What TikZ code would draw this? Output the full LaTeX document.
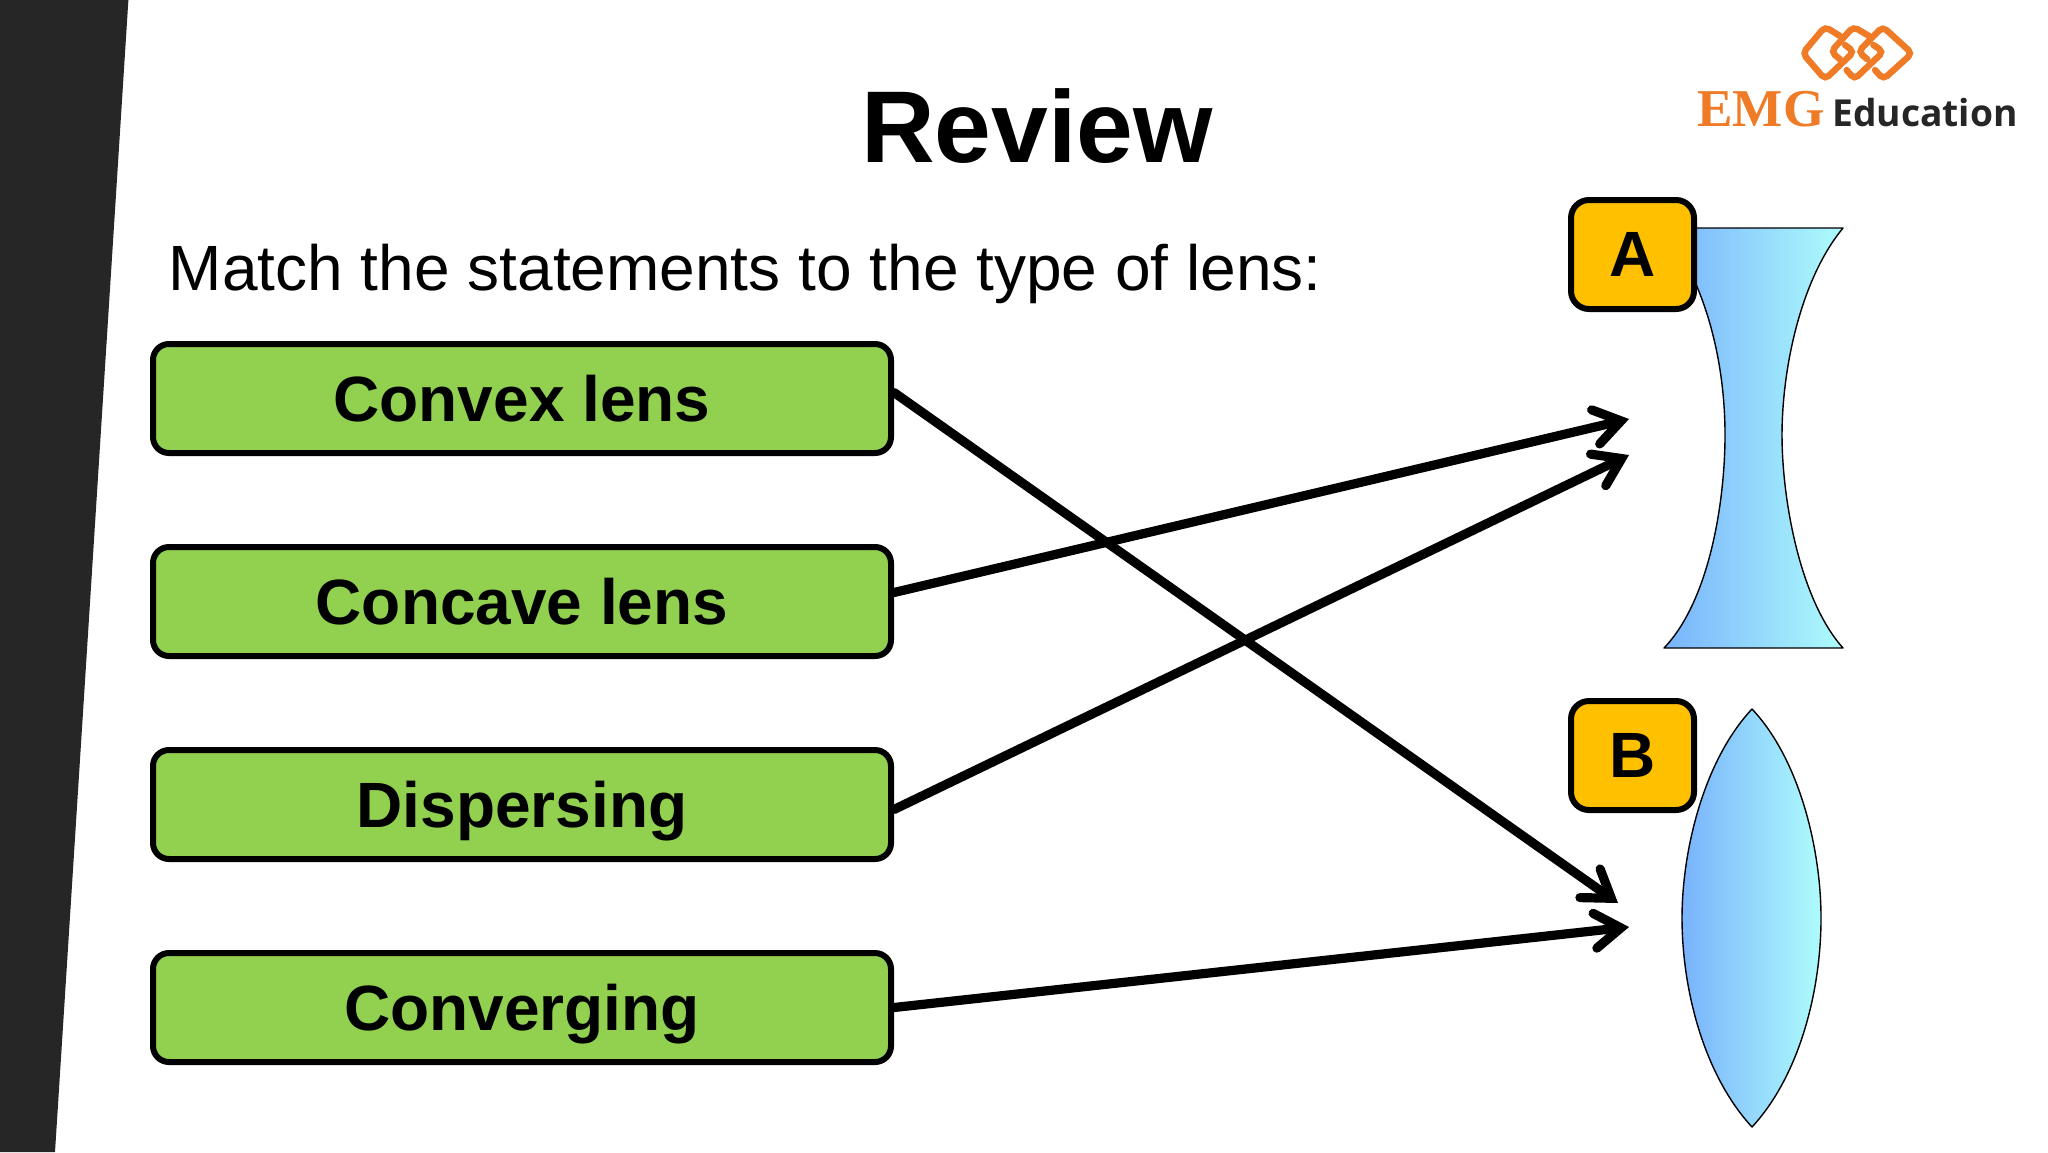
\documentclass[tikz,border=0pt]{standalone}
\usepackage{fontspec}
\setmainfont{Liberation Sans}
\newfontfamily\logoserif{Liberation Serif}
\newfontfamily\logosans{Open Sans}
\usetikzlibrary{positioning,arrows.meta}
\definecolor{slidedark}{HTML}{262626}
\definecolor{boxgreen}{HTML}{92D050}
\definecolor{tagyellow}{HTML}{FFC000}
\definecolor{logoorange}{HTML}{EF7B26}
\definecolor{lensleft}{HTML}{78B2FC}
\definecolor{lensright}{HTML}{AEFCFC}

\begin{document}
\begin{tikzpicture}[x=.5pt,y=-.5pt,node distance=44pt,
                    item/.style={draw=black,line width=3pt,fill=boxgreen,rounded corners=8pt,minimum width=369pt,minimum height=54.5pt,inner sep=0pt,text height=23.3pt,text depth=.4pt,font={\fontsize{32}{36}\selectfont\bfseries}},
                    tag/.style={draw=black,line width=3pt,fill=tagyellow,rounded corners=9pt,minimum width=61.5pt,minimum height=54.5pt,inner sep=0pt,font={\fontsize{32}{36}\selectfont\bfseries}},
                    lens/.style={draw=black,line width=.7pt,left color=lensleft,right color=lensright,line join=round},
                    match/.style={draw=black,line width=4.6pt,line cap=round,-{Straight Barb[length=13pt,width=17.5pt,line cap=round,line join=miter]}},
                    link/.style={draw=logoorange,line width=3.2pt,rounded corners=2.5pt,line cap=round}]
  \useasboundingbox (0,0) rectangle (2048,1152);
  \fill[slidedark] (0,0) -- (128.4,0) -- (55,1152) -- (0,1152) -- cycle;
  % heading
  \node[font={\fontsize{51}{56}\selectfont\bfseries}] (title) at (1037,126) {Review};
  \node[anchor=base west,inner sep=0pt,font={\fontsize{32}{36}\selectfont}] (prompt) at (168.5,290) {Match the statements to the type of lens:};
  % statements
  \node[item] (convex) at (522,398.5) {Convex lens};
  \node[item] (concave) [below=of convex] {Concave lens};
  \node[item] (dispersing) [below=of concave] {Dispersing};
  \node[item] (converging) [below=of dispersing] {Converging};
  % lenses
  \path[lens] (1664,648) .. controls (1710,600) and (1725,500) .. (1725,435) .. controls (1725,370) and (1710,290) .. (1664,228) -- (1843,228) .. controls (1800,280) and (1782,370) .. (1782,435) .. controls (1782,500) and (1800,600) .. (1843,648) -- cycle;
  \path[lens] (1752,709) .. controls (1800,760) and (1821,850) .. (1821,918) .. controls (1821,990) and (1800,1075) .. (1752,1127) .. controls (1704,1075) and (1682,990) .. (1682,918) .. controls (1682,850) and (1704,760) .. (1752,709) -- cycle;
  \node[tag] (taga) at (1632.5,254.5) {A};
  \node[tag] (tagb) at (1632.5,755.5) {B};
  % arrow ends
  \coordinate (enda) at (1629,419);
  \coordinate (endb) at (1629,455);
  \coordinate (endc) at (1618,903);
  \coordinate (endd) at (1629,927);
  \draw[match] ([yshift=3pt]convex.east) -- (endc);
  \draw[match] ([yshift=4.5pt]concave.east) -- (enda);
  \draw[match] ([yshift=-2.5pt]dispersing.east) -- (endb);
  \draw[match] (converging.east) -- (endd);
  % logo
  \begin{scope}[shift={(1790,20)},x=.1667pt,y=-.1667pt]
    \draw[link] (150,48) -- (105,20) -- (38,100) -- (105,178) -- (192,95) -- (165,75);
    \draw[link] (237,48) -- (190,20) -- (123,95) -- (150,118);
    \draw[link] (170,150) -- (193,178) -- (280,95) -- (250,75);
    \draw[link] (232,118) -- (205,95) -- (278,20) -- (366,100) -- (280,178) -- (255,150);
  \end{scope}
  \node[anchor=base west,inner sep=0pt,text=logoorange,font={\fontsize{26.6}{30}\logoserif\bfseries}] (emg) at (1697,126) {EMG};
  \node[anchor=base west,inner sep=0pt,text=slidedark,font={\fontsize{18.6}{22}\logosans\bfseries}] (edu) at (1832,126) {Education};
\end{tikzpicture}
\end{document}
